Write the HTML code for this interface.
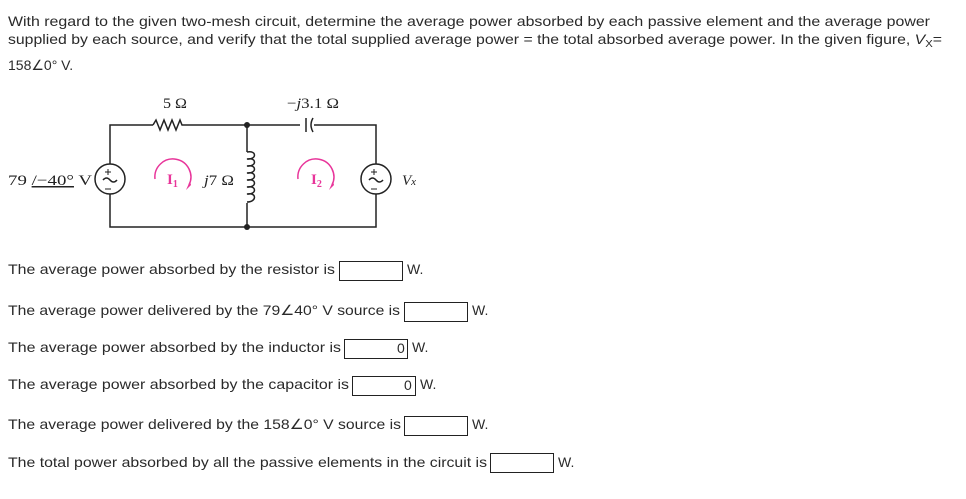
<!DOCTYPE html>
<html><head><meta charset="utf-8"><style>
html,body{margin:0;padding:0;background:#fff;}
svg{display:block;}
text{font-family:"Liberation Sans",sans-serif;font-size:14px;fill:#2a2a2a;}
.s{font-family:"Liberation Serif",serif;font-size:15px;fill:#222;}
</style></head><body>
<svg width="966" height="499" viewBox="0 0 966 499">
<text x="8" y="26" textLength="922" lengthAdjust="spacingAndGlyphs">With regard to the given two-mesh circuit, determine the average power absorbed by each passive element and the average power</text>
<text x="8" y="44" textLength="934" lengthAdjust="spacingAndGlyphs">supplied by each source, and verify that the total supplied average power = the total absorbed average power. In the given figure, <tspan font-style="italic">V</tspan><tspan font-size="10" dy="3">X</tspan><tspan dy="-3">=</tspan></text>
<text x="8" y="70">158∠0° V.</text>

<g stroke="#222" stroke-width="1.5" fill="none">
<path d="M110,164 V125 H153 M193,125 H376 V164 M376,194 V227 H110 V194"/>
<path d="M153,125 l3,-5 l4,10 l4,-10 l4,10 l4,-10 l4,10 l4,-10 l2,5 H193"/>
<path d="M247,125 V152 M247,203 V227"/>
<path d="M247,152 c10,-2 10,8 0,7 c10,-2 10,8 0,7 c10,-2 10,8 0,7 c10,-2 10,8 0,7 c10,-2 10,8 0,7 c10,-2 10,8 0,7 c10,-2 10,8 0,8"/>
<circle cx="110" cy="179" r="15" fill="#fff"/>
<circle cx="376" cy="179" r="15" fill="#fff"/>
<path d="M103,180 q3.5,-4 7,0 t7,0 M369,180 q3.5,-4 7,0 t7,0"/>
<path d="M105,172 h6 M108,169 v6 M105,189 h6 M371,172 h6 M374,169 v6 M371,189 h6" stroke-width="1"/>
</g>
<rect x="300" y="118" width="14" height="14" fill="#fff"/>
<path d="M306,118 V132 M313,118 q-4,7 0,14" stroke="#222" stroke-width="1.5" fill="none"/>
<circle cx="247" cy="125" r="3" fill="#222"/><circle cx="247" cy="227" r="3" fill="#222"/>
<g stroke="#e8359a" stroke-width="1.5" fill="none">
<path d="M155,179 a18,18 0 1 1 34,6"/><path d="M298,179 a18,18 0 1 1 34,6"/>
</g>
<path d="M186,190 l5,-5 l-1,-4 z M329,190 l5,-5 l-1,-4 z" fill="#e8359a"/>
<text class="s" x="163" y="108" textLength="24" lengthAdjust="spacingAndGlyphs">5 Ω</text>
<text class="s" x="287" y="108" textLength="52" lengthAdjust="spacingAndGlyphs">−<tspan font-style="italic">j</tspan>3.1 Ω</text>
<text class="s" x="8" y="185" textLength="84" lengthAdjust="spacingAndGlyphs">79 <tspan text-decoration="underline">/−40°</tspan> V</text>
<text class="s" x="204" y="185" textLength="30" lengthAdjust="spacingAndGlyphs"><tspan font-style="italic">j</tspan>7 Ω</text>
<text class="s" x="402" y="185" font-style="italic">V<tspan font-size="11">x</tspan></text>
<text class="s" x="167" y="184" font-weight="bold" style="fill:#e8359a">I<tspan font-size="10" dy="3">1</tspan></text>
<text class="s" x="311" y="184" font-weight="bold" style="fill:#e8359a">I<tspan font-size="10" dy="3">2</tspan></text>

<text x="8" y="274" textLength="327" lengthAdjust="spacingAndGlyphs">The average power absorbed by the resistor is</text>
<rect x="339.5" y="261.5" width="63" height="19" fill="none" stroke="#222"/><text x="407" y="274">W.</text>
<text x="8" y="315" textLength="392" lengthAdjust="spacingAndGlyphs">The average power delivered by the 79∠40° V source is</text>
<rect x="404.5" y="302.5" width="63" height="19" fill="none" stroke="#222"/><text x="472" y="315">W.</text>
<text x="8" y="352" textLength="333" lengthAdjust="spacingAndGlyphs">The average power absorbed by the inductor is</text>
<rect x="344.5" y="339.5" width="63" height="19" fill="none" stroke="#222"/><text x="397" y="353" font-size="12">0</text><text x="412" y="352">W.</text>
<text x="8" y="389" textLength="341" lengthAdjust="spacingAndGlyphs">The average power absorbed by the capacitor is</text>
<rect x="352.5" y="376.5" width="63" height="19" fill="none" stroke="#222"/><text x="404" y="390" font-size="12">0</text><text x="420" y="389">W.</text>
<text x="8" y="429" textLength="393" lengthAdjust="spacingAndGlyphs">The average power delivered by the 158∠0° V  source is</text>
<rect x="404.5" y="416.5" width="63" height="19" fill="none" stroke="#222"/><text x="472" y="429">W.</text>
<text x="8" y="467" textLength="479" lengthAdjust="spacingAndGlyphs">The total power absorbed by all the passive elements in the circuit is</text>
<rect x="490.5" y="453.5" width="63" height="19" fill="none" stroke="#222"/><text x="558" y="467">W.</text>
</svg>
</body></html>
